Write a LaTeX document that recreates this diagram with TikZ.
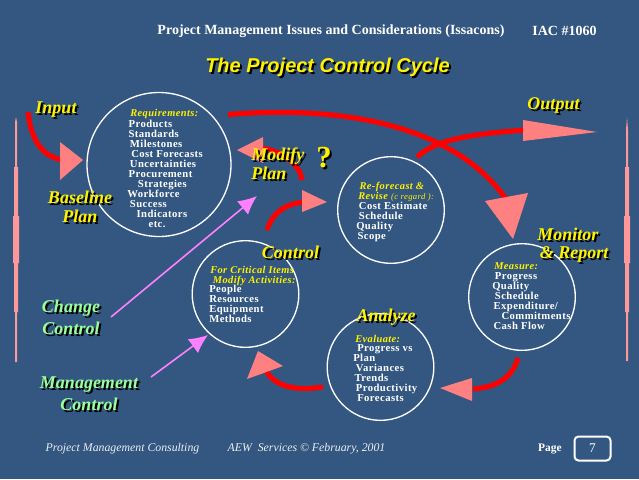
\documentclass[tikz,border=0pt]{standalone}
\usepackage{fontspec}
\setmainfont{Liberation Serif}
\newfontfamily\arialfont{Liberation Sans}
\newfontfamily\wideserif[LetterSpace=4]{Liberation Serif}
\usepackage{tikz}
\usetikzlibrary{arrows.meta}

\definecolor{slideBlue}{RGB}{51,87,128}
\definecolor{headPink}{RGB}{255,128,128}
\definecolor{barPink}{RGB}{255,153,153}
\definecolor{linkViolet}{RGB}{255,128,255}
\definecolor{labelGreen}{RGB}{153,255,153}

% text with a black drop shadow
\newcommand{\shadowed}[1]{\leavevmode\rlap{\kern1.5pt\raisebox{-1.5pt}{\color{black}#1}}#1}

\begin{document}
\begin{tikzpicture}[x=0.75pt, y=-0.75pt,
		cycleNode/.style={circle, draw=white, line width=1pt, minimum size=80pt, inner sep=0pt},
		bodyText/.style={text=white, font=\wideserif\fontsize{8}{7.5}\selectfont\bfseries, align=left, anchor=north west, inner sep=0pt},
		headText/.style={text=yellow, font=\wideserif\fontsize{7.8}{7.5}\selectfont\bfseries\itshape, align=left, anchor=north west, inner sep=0pt},
		bigLabel/.style={text=yellow, font=\fontsize{13.5}{14}\selectfont\bfseries\itshape, align=center, inner sep=0pt},
		greenLabel/.style={text=labelGreen, font=\fontsize{13.5}{16.5}\selectfont\bfseries\itshape, align=center, inner sep=0pt},
		footText/.style={text=white!90!slideBlue, font=\fontsize{8.85}{9}\selectfont\itshape, inner sep=0pt},
		redLink/.style={red, line width=3.8pt},
		violetLink/.style={linkViolet, line width=1.2pt, -{Latex[length=14pt, width=13pt]}},
		headTri/.style={fill=headPink},
		sideBar/.style={fill=barPink}]
	\fill[slideBlue] (0,0) rectangle (639,479);

	% Side bars
	\fill[sideBar] (16,117) -- (17,122) -- (17,167) -- (18,167) -- (18,216) -- (19,216) -- (19,263) -- (18,263) -- (18,312) -- (17,312) -- (17,362)
		-- (15,362) -- (15,312) -- (14,312) -- (14,263) -- (13,263) -- (13,216) -- (14,216) -- (14,167) -- (15,167) -- (15,122) -- cycle;
	\fill[sideBar] (627,117) -- (628,130) -- (628,167) -- (629,167) -- (629,216) -- (630,216) -- (630,263) -- (629,263) -- (629,312) -- (628,312) -- (628,361)
		-- (626,361) -- (626,312) -- (625,312) -- (625,263) -- (624,263) -- (624,216) -- (625,216) -- (625,167) -- (626,167) -- (626,130) -- cycle;

	% Circles
	\node[cycleNode, minimum size=108pt] (plan) at (159,164.5) {};
	\node[cycleNode] (reforecast) at (391,210) {};
	\node[cycleNode] (control) at (245.5,294) {};
	\node[cycleNode] (analyze) at (380.5,367) {};
	\node[cycleNode] (monitor) at (522,297) {};

	% Link ends
	\coordinate (inputStart) at (28,112);
	\coordinate (inputEnd) at (62,160);
	\coordinate (bigStart) at (228,114.5);
	\coordinate (bigEnd) at (506,199);
	\coordinate (outStart) at (417,157);
	\coordinate (outEnd) at (525,130);
	\coordinate (modStart) at (302,180);
	\coordinate (modEnd) at (262,148);
	\coordinate (ctlStart) at (267,230);
	\coordinate (ctlEnd) at (304,202);
	\coordinate (monStart) at (518,358);
	\coordinate (monEnd) at (473,389);
	\coordinate (anaStart) at (323,387);
	\coordinate (anaEnd) at (266,371);
	\coordinate (changeStart) at (111,317);
	\coordinate (changeEnd) at (257,196);
	\coordinate (mgmtStart) at (151,377);
	\coordinate (mgmtEnd) at (208,335);

	% Red links
	\draw[redLink] (inputStart) .. controls (31,140) and (42,156) .. (inputEnd);
	\draw[redLink] (bigStart) .. controls (330,106) and (450,120) .. (bigEnd);
	\draw[redLink] (outStart) .. controls (435,140) and (470,134) .. (outEnd);
	\draw[redLink] (modStart) .. controls (300,165) and (285,152) .. (modEnd);
	\draw[redLink] (ctlStart) .. controls (273,212) and (285,204) .. (ctlEnd);
	\draw[redLink] (monStart) .. controls (512,378) and (497,387) .. (monEnd);
	\draw[redLink] (anaStart) .. controls (295,391) and (276,387) .. (anaEnd);

	% Arrow heads
	\fill[headTri] (60,142) -- (83,160) -- (60,180) -- cycle;
	\fill[headTri] (485,201) -- (528,193) -- (513,239) -- cycle;
	\fill[headTri] (523,120) -- (597,132) -- (523,141) -- cycle;
	\fill[headTri] (263,137) -- (237,150) -- (263,163) -- cycle;
	\fill[headTri] (302,190) -- (327,202) -- (302,212) -- cycle;
	\fill[headTri] (472,378) -- (440,388) -- (472,401) -- cycle;
	\fill[headTri] (258,351) -- (283,366) -- (247,379) -- cycle;

	% Violet links
	\draw[violetLink] (changeStart) -- (changeEnd);
	\draw[violetLink] (mgmtStart) -- (mgmtEnd);

	% Header
	\node[text=white, font=\fontsize{10.5}{11}\selectfont\bfseries, inner sep=0pt] (issueTitle) at (331,31) {Project Management Issues and Considerations (Issacons)};
	\node[text=white, font=\fontsize{10.5}{11}\selectfont\bfseries, inner sep=0pt] (iacTitle) at (564.5,31) {IAC \#1060};
	\node[text=yellow, font=\arialfont\fontsize{15}{16}\selectfont\bfseries\itshape, inner sep=0pt] (title) at (327.5,68) {\shadowed{The Project Control Cycle}};

	% Big labels
	\node[bigLabel] (inputLabel) at (56,111) {\shadowed{Input}};
	\node[bigLabel] (baseLabel) at (80,208) {\shadowed{Baseline}\\\shadowed{Plan}};
	\node[bigLabel, align=left, anchor=west] (modifyLabel) at (251,165) {\shadowed{Modify}\\\shadowed{Plan}};
	\node[bigLabel, font=\fontsize{23}{24}\selectfont\bfseries] (queryLabel) at (324,159) {\shadowed{?}};
	\node[bigLabel] (outputLabel) at (553.5,106) {\shadowed{Output}};
	\node[bigLabel, align=left, anchor=west] (monitorLabel) at (537,246) {\shadowed{Monitor}\\\hspace*{2pt}\shadowed{\& Report}};
	\node[bigLabel] (controlLabel) at (290.5,253) {\shadowed{Control}};
	\node[bigLabel] (analyzeLabel) at (386,318) {\shadowed{Analyze}};
	\node[greenLabel] (changeLabel) at (71,318.5) {\shadowed{Change}\\\shadowed{Control}};
	\node[greenLabel] (mgmtLabel) at (89,394.5) {\shadowed{Management}\\\shadowed{Control}};

	% Circle texts
	\node[headText] (planHead) at (130,109) {Requirements:};
	\node[bodyText] (planBody) at (127,119.5) {\hspace*{1pt}Products\\\hspace*{1pt}Standards\\\hspace*{2pt}Milestones\\\hspace*{3pt}Cost Forecasts\\\hspace*{2pt}Uncertainties\\\hspace*{1pt}Procurement\\\hspace*{8pt}Strategies\\Workforce\\\hspace*{2pt}Success\\\hspace*{7pt}Indicators\\\hspace*{16pt}etc.};
	\node[headText] (refHead) at (358,182) {\hspace*{1pt}Re-forecast \&\\Revise {\fontsize{6.5}{7.5}\selectfont\mdseries(c regard ):}};
	\node[bodyText] (refBody) at (356,202) {\hspace*{2pt}Cost Estimate\\\hspace*{2pt}Schedule\\Quality\\\hspace*{1pt}Scope};
	\node[headText] (ctlHead) at (210,266) {For Critical Items\\\hspace*{2pt}Modify Activities:};
	\node[bodyText] (ctlBody) at (209,285) {People\\Resources\\Equipment\\Methods};
	\node[headText] (anaHead) at (355,335) {Evaluate:};
	\node[bodyText] (anaBody) at (353,344) {\hspace*{3pt}Progress vs\\Plan\\\hspace*{2pt}Variances\\\hspace*{1pt}Trends\\\hspace*{2pt}Productivity\\\hspace*{3pt}Forecasts};
	\node[headText] (monHead) at (494,262) {Measure:};
	\node[bodyText] (monBody) at (492,272) {\hspace*{2pt}Progress\\Quality\\\hspace*{2pt}Schedule\\\hspace*{1pt}Expenditure/\\\hspace*{7pt}Commitments\\\hspace*{1pt}Cash Flow};

	% Footer
	\node[footText] (footLeft) at (122.5,449) {Project Management Consulting};
	\node[footText] (footMid) at (306.5,449) {AEW\ \ Services \textcopyright{} February, 2001};
	\node[text=white, font=\fontsize{8.6}{9}\selectfont\bfseries, inner sep=0pt] (pageLabel) at (550,449.5) {Page};
	\node[draw=white, line width=1.5pt, rounded corners=3pt, minimum width=27pt, minimum height=18pt, inner sep=0pt, text=white, font=\fontsize{10}{10}\selectfont] (pageBox) at (592.5,448.5) {7};
\end{tikzpicture}
\end{document}
